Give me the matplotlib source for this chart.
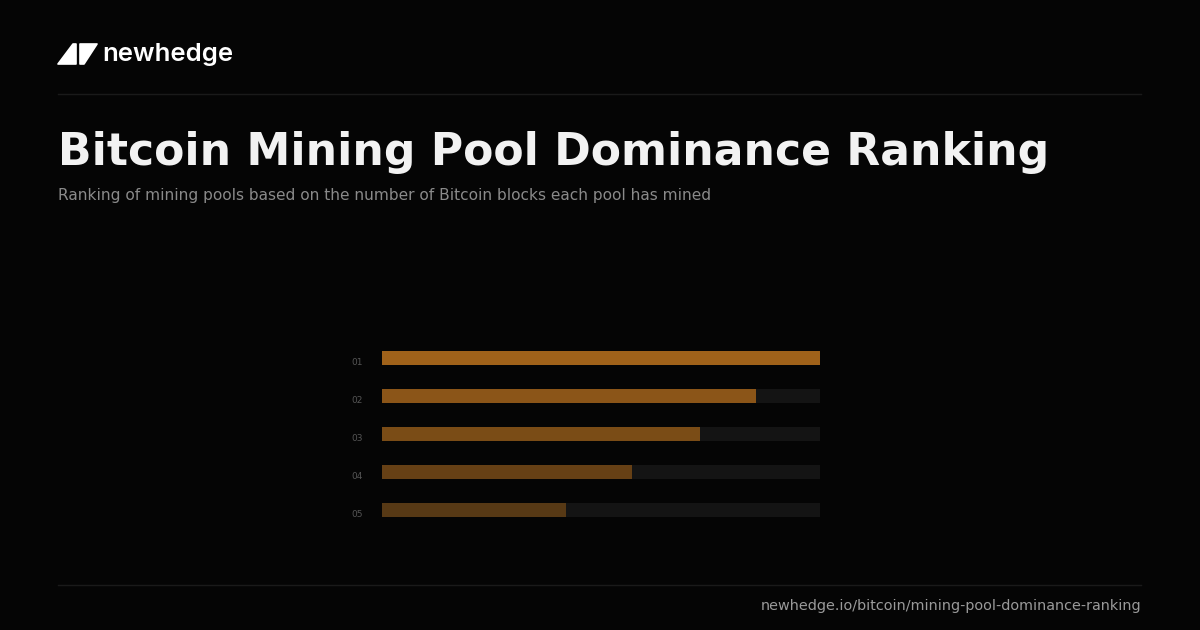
import matplotlib.pyplot as plt
from matplotlib.patches import Polygon
from matplotlib.lines import Line2D

plt.rcParams['font.family'] = 'DejaVu Sans'

W, H = 1200, 630

# ranking data (share of blocks relative to the leader)
ranks = ["01", "02", "03", "04", "05"]
shares = [100, 85.4, 72.6, 57.1, 42.0]
bar_colors = ["#a0621a", "#8b5518", "#7a4c16", "#664015", "#573915"]

bg = "#050505"
fig = plt.figure(figsize=(12, 6.3), dpi=100, facecolor=bg)


def fx(x):
    return x / W


def fy(y):
    return 1 - y / H


# logo
logo1 = [(58, 64), (73, 44), (76, 44), (76, 64)]
logo2 = [(80, 44), (97, 44), (84, 64), (80, 64)]
for pts in (logo1, logo2):
    fig.patches.append(Polygon([(fx(a), fy(b)) for a, b in pts], closed=True,
                               transform=fig.transFigure, facecolor="white",
                               edgecolor="white", linewidth=1.2, joinstyle="round"))
fig.text(fx(102), fy(55), "newhedge", color="white", fontsize=18.5, family="Inter",
         fontweight="semibold", va="center", ha="left")

# separator lines
for yy in (94, 585):
    fig.add_artist(Line2D([fx(58), fx(1141)], [fy(yy), fy(yy)], color="#1a1a1a",
                          linewidth=1, transform=fig.transFigure))

fig.text(fx(58), fy(165), "Bitcoin Mining Pool Dominance Ranking", color="#f2f2f2",
         fontsize=31.8, fontweight="bold", ha="left", va="baseline")
fig.text(fx(58), fy(200), "Ranking of mining pools based on the number of Bitcoin blocks each pool has mined",
         color="#8a8a8a", fontsize=11.05, ha="left", va="baseline")
fig.text(fx(1141), fy(610), "newhedge.io/bitcoin/mining-pool-dominance-ranking",
         color="#9a9a9a", fontsize=10.35, ha="right", va="baseline")

# bars
ax = fig.add_axes([fx(382), fy(530), fx(820) - fx(382), (530 - 340) / H])
ax.set_facecolor(bg)
pos = list(range(len(ranks)))
h = 14 / 38
ax.barh(pos, [max(shares)] * len(pos), height=h, color="#141414")
ax.barh(pos, shares, height=h, color=bar_colors)
ax.set_xlim(0, max(shares))
ax.set_ylim(4 + 20 / 38, -18 / 38)
ax.set_yticks(pos)
ax.set_yticklabels(ranks, color="#555555", fontsize=6.5)
ax.tick_params(axis="y", length=0, pad=14)
for lab in ax.get_yticklabels():
    lab.set_verticalalignment("top")
ax.set_xticks([])
for s in ax.spines.values():
    s.set_visible(False)

fig.savefig("out.png", dpi=100, facecolor=bg)
